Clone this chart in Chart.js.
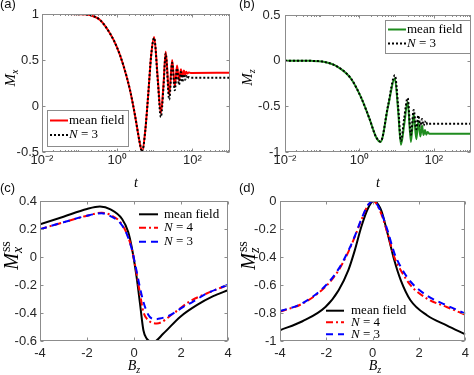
<!DOCTYPE html>
<html><head><meta charset="utf-8">
<script src="https://cdn.jsdelivr.net/npm/chart.js@4.4.1/dist/chart.umd.min.js"></script>
<style>
html,body{margin:0;padding:0;background:#fff;}
#wrap{position:relative;width:474px;height:375px;overflow:hidden;background:#fff;}
canvas{position:absolute;left:0;top:0;}
</style></head><body>
<div id="wrap">
<canvas id="ca" width="474" height="375"></canvas>
<canvas id="cb" width="474" height="375"></canvas>
<canvas id="cc" width="474" height="375"></canvas>
<canvas id="cd" width="474" height="375"></canvas>
</div>
<script>
// ---------------- data ----------------
// (a) M_x vs t
const tA = [0.01, 0.05, 0.1, 0.2, 0.35, 0.64, 0.97, 1.45, 2.2, 2.97, 3.9, 4.6, 5.6, 6.7, 8.0, 9.6, 12, 14.5, 17, 19.5, 24.2, 29, 34, 39, 44, 49.5, 54, 59.5, 64, 69, 74, 80, 90, 1000];
const mxMeanField = [1, 1, 0.998, 0.985, 0.935, 0.79, 0.645, 0.446, 0.17, -0.1, -0.38, -0.5, -0.26, 0.13, 0.55, 0.75, 0.3, -0.08, 0.23, 0.59, 0.12, 0.5, 0.21, 0.44, 0.28, 0.4, 0.32, 0.385, 0.34, 0.372, 0.352, 0.365, 0.36, 0.362];
const mxN3 = [1, 1, 0.998, 0.985, 0.935, 0.79, 0.645, 0.446, 0.17, -0.1, -0.38, -0.5, -0.26, 0.13, 0.55, 0.74, 0.27, -0.12, 0.2, 0.57, 0.07, 0.47, 0.17, 0.41, 0.23, 0.37, 0.26, 0.345, 0.285, 0.325, 0.298, 0.315, 0.308, 0.308];
// (b) M_z vs t
const tB = [0.01, 0.05, 0.1, 0.26, 0.59, 1.1, 1.86, 2.8, 3.7, 5.9, 9.0, 11, 13.1, 16, 19.8, 24.3, 28.8, 33.9, 38.4, 43.5, 48.3, 53, 58, 63, 68, 75, 100, 1000];
const mzMeanField = [0, -0.002, -0.01, -0.067, -0.195, -0.4, -0.635, -0.835, -0.89, -0.5, -0.195, -0.55, -0.92, -0.7, -0.45, -0.89, -0.58, -0.86, -0.66, -0.83, -0.71, -0.815, -0.76, -0.81, -0.78, -0.8, -0.8, -0.8];
const mzN3 = [0, -0.002, -0.01, -0.067, -0.195, -0.4, -0.635, -0.835, -0.885, -0.49, -0.16, -0.5, -0.88, -0.63, -0.41, -0.81, -0.54, -0.75, -0.6, -0.72, -0.64, -0.71, -0.665, -0.7, -0.68, -0.692, -0.69, -0.69];
// (c) M_x^ss vs B_z
const bzCMeanField = [-4, -3, -2, -1.45, -1, -0.5, -0.25, -0.1, 0.11, 0.255, 0.4, 0.54, 0.82, 1.25, 1.96, 2.67, 3.37, 4];
const mxssMeanField = [0.233, 0.288, 0.343, 0.36, 0.34, 0.27, 0.18, 0.073, -0.142, -0.332, -0.523, -0.583, -0.607, -0.547, -0.428, -0.344, -0.28, -0.237];
const bzCN4 = [-4, -3, -2, -1.38, -1, -0.6, -0.31, -0.1, 0.085, 0.23, 0.4, 0.61, 0.97, 1.67, 2.38, 3.09, 4];
const mxssN4 = [0.198, 0.248, 0.295, 0.316, 0.3, 0.252, 0.169, 0.061, -0.094, -0.237, -0.392, -0.452, -0.475, -0.404, -0.316, -0.261, -0.199];
const bzCN3 = [-4, -3, -2, -1.38, -1, -0.6, -0.31, -0.1, 0.085, 0.23, 0.4, 0.6, 0.85, 1.1, 1.53, 2.1, 2.5, 3.09, 4];
const mxssN3 = [0.198, 0.248, 0.295, 0.312, 0.292, 0.245, 0.165, 0.06, -0.08, -0.2, -0.32, -0.41, -0.445, -0.44, -0.416, -0.356, -0.32, -0.261, -0.199];
// (d) M_z^ss vs B_z
const bzD = [-4, -3.03, -2.04, -1.47, -1.05, -0.77, -0.49, -0.2, 0.03, 0.36, 0.64, 0.93, 1.21, 1.63, 2.34, 3.19, 4];
const mzssMeanField = [-0.923, -0.859, -0.757, -0.637, -0.494, -0.351, -0.184, -0.052, 0, -0.064, -0.231, -0.422, -0.565, -0.709, -0.816, -0.888, -0.952];
const mzssN4 = [-0.79, -0.733, -0.613, -0.494, -0.363, -0.255, -0.136, -0.029, 0, -0.088, -0.231, -0.399, -0.494, -0.601, -0.697, -0.757, -0.812];
const mzssN3 = [-0.787, -0.73, -0.605, -0.485, -0.355, -0.25, -0.13, -0.028, 0, -0.08, -0.21, -0.37, -0.47, -0.575, -0.675, -0.745, -0.805];
// tick labels
const logTicks = [0.01, 1, 100];
const logTickLabels = ['10\u207B\u00B2', '10\u2070', '10\u00B2'];
const bTicks = [-4, -2, 0, 2, 4];
const yTicksA = [-0.5, 0, 0.5, 1];
const yTicksB = [-1, -0.5, 0, 0.5];
const yTicksC = [-0.6, -0.4, -0.2, 0, 0.2, 0.4];
const yTicksD = [-1, -0.8, -0.6, -0.4, -0.2, 0];

// ---------------- styling ----------------
const AXIS = '#8c8c8c';
const TXT = '#262626';
const SANS = '"Liberation Sans", Arial, Helvetica, sans-serif';
const SERIF = '"Liberation Serif", "Times New Roman", serif';
const RED = '#ff0000', BLUE = '#0000ff', GREEN = '#1f8c1f', BLACK = '#000000';

function pts(xs, ys) { return xs.map((x, i) => ({x: x, y: ys[i]})); }
function fmt(v) { return String(Number(v.toFixed(2))); }

const panelPlugin = {
  id: 'panel',
  afterDraw(chart, args, o) {
    const ctx = chart.ctx, a = chart.chartArea;
    const xs = chart.scales.x, ys = chart.scales.y;
    ctx.save();
    ctx.strokeStyle = AXIS; ctx.lineWidth = 1;
    const L = Math.round(a.left) + 0.5, R = Math.round(a.right) - 0.5, T = Math.round(a.top) + 0.5, B = Math.round(a.bottom) - 0.5;
    ctx.beginPath();
    const TL = 3;
    o.xMajor.forEach(v => { const p = Math.round(xs.getPixelForValue(v)) + 0.5; ctx.moveTo(p, B); ctx.lineTo(p, B - TL); ctx.moveTo(p, T); ctx.lineTo(p, T + TL); });
    o.yMajor.forEach(v => { const p = Math.round(ys.getPixelForValue(v)) + 0.5; ctx.moveTo(L, p); ctx.lineTo(L + TL, p); ctx.moveTo(R, p); ctx.lineTo(R - TL, p); });
    if (o.minorLog) {
      for (let d = -2; d < 3; d++) for (let m = 2; m <= 9; m++) {
        const v = m * Math.pow(10, d);
        const p = Math.round(xs.getPixelForValue(v)) + 0.5;
        ctx.moveTo(p, B); ctx.lineTo(p, B - 1.5); ctx.moveTo(p, T); ctx.lineTo(p, T + 1.5);
      }
    }
    ctx.stroke();
    ctx.strokeRect(L, T, R - L, B - T);

    // legend
    const lg = o.legend;
    if (lg.box) {
      ctx.fillStyle = '#fff';
      ctx.fillRect(lg.box[0], lg.box[1], lg.box[2], lg.box[3]);
      ctx.strokeStyle = AXIS;
      ctx.strokeRect(lg.box[0] + 0.5, lg.box[1] + 0.5, lg.box[2], lg.box[3]);
    }
    lg.rows.forEach(r => {
      const ds = chart.data.datasets[r.ds];
      ctx.strokeStyle = ds.borderColor; ctx.lineWidth = ds.borderWidth;
      ctx.setLineDash(ds.borderDash || []);
      ctx.beginPath(); ctx.moveTo(lg.x1, r.y); ctx.lineTo(lg.x2, r.y); ctx.stroke();
      ctx.setLineDash([]);
      ctx.fillStyle = '#000'; ctx.textBaseline = 'middle'; ctx.textAlign = 'left';
      let x = lg.tx;
      const label = ds.label;
      const parts = label.startsWith('N') ? [['N', 'italic '], [label.slice(1), '']] : [[label, '']];
      parts.forEach(([t, st]) => { ctx.font = st + '13px ' + SERIF; ctx.fillText(t, x, r.y); x += ctx.measureText(t).width; });
    });

    // x title
    const xt = o.xTitle;
    ctx.fillStyle = '#000'; ctx.textBaseline = 'alphabetic'; ctx.textAlign = 'left';
    ctx.font = 'italic 14px ' + SERIF;
    const wMain = ctx.measureText(xt.main).width;
    let wSub = 0;
    if (xt.sub) { ctx.font = 'italic 10px ' + SERIF; wSub = ctx.measureText(xt.sub).width; }
    let x0 = xt.x - (wMain + wSub) / 2;
    ctx.font = 'italic 14px ' + SERIF; ctx.fillText(xt.main, x0, xt.y);
    if (xt.sub) { ctx.font = 'italic 10px ' + SERIF; ctx.fillText(xt.sub, x0 + wMain, xt.y + 3); }

    // y title (rotated)
    const yt = o.yTitle, s = yt.size, ss = Math.round(s * 0.68);
    ctx.font = 'italic ' + s + 'px ' + SERIF;
    const wM = ctx.measureText('M').width;
    ctx.font = 'italic ' + ss + 'px ' + SERIF;
    const wS = ctx.measureText(yt.sub).width;
    let wP = 0;
    if (yt.sup) { ctx.font = ss + 'px ' + SERIF; wP = ctx.measureText(yt.sup).width; }
    const tot = wM + Math.max(wS, wP);
    ctx.save();
    ctx.translate(yt.x, yt.cy); ctx.rotate(-Math.PI / 2);
    const y0 = -tot / 2;
    ctx.font = 'italic ' + s + 'px ' + SERIF; ctx.fillText('M', y0, 0);
    ctx.font = 'italic ' + ss + 'px ' + SERIF; ctx.fillText(yt.sub, y0 + wM, s * 0.2);
    if (yt.sup) { ctx.font = ss + 'px ' + SERIF; ctx.fillText(yt.sup, y0 + wM + 1, -s * 0.42); }
    ctx.restore();

    // panel label
    ctx.font = '13px ' + SANS; ctx.fillStyle = '#111';
    ctx.fillText(o.tag[0], o.tag[1], o.tag[2]);
    ctx.restore();
  }
};

function makePanel(id, cfg) {
  const yw = 40, xh = 30;
  const ar = cfg.area;
  const xScale = cfg.logX ? {
    type: 'logarithmic', min: 0.01, max: 1000,
    afterBuildTicks: s => { s.ticks = logTicks.map(v => ({value: v})); },
    ticks: {callback: (v, i) => logTickLabels[i], font: {family: SANS, size: 13}, color: TXT, padding: cfg.xPad, autoSkip: false, maxRotation: 0, minRotation: 0},
    grid: {display: false, drawTicks: false}, border: {display: false},
    afterFit: s => { s.height = xh; }
  } : {
    type: 'linear', min: -4, max: 4,
    afterBuildTicks: s => { s.ticks = bTicks.map(v => ({value: v})); },
    ticks: {callback: v => fmt(v), font: {family: SANS, size: 13}, color: TXT, padding: cfg.xPad, autoSkip: false, maxRotation: 0, minRotation: 0},
    grid: {display: false, drawTicks: false}, border: {display: false},
    afterFit: s => { s.height = xh; }
  };
  const yScale = {
    type: 'linear', min: cfg.yTicks[0], max: cfg.yTicks[cfg.yTicks.length - 1],
    afterBuildTicks: s => { s.ticks = cfg.yTicks.map(v => ({value: v})); },
    ticks: {callback: v => fmt(v), font: {family: SANS, size: 13}, color: TXT, padding: cfg.yPad, autoSkip: false},
    grid: {display: false, drawTicks: false}, border: {display: false},
    afterFit: s => { s.width = yw; }
  };
  return new Chart(document.getElementById(id), {
    type: 'line',
    data: {datasets: cfg.datasets.map(d => Object.assign({pointRadius: 0, borderWidth: 2, fill: false, cubicInterpolationMode: 'monotone'}, d))},
    options: {
      responsive: false, animation: false, events: [],
      layout: {autoPadding: false, padding: {left: ar.L - yw, top: ar.T, right: 474 - ar.R, bottom: 375 - ar.B - xh}},
      scales: {x: xScale, y: yScale},
      plugins: {
        legend: {display: false}, tooltip: {enabled: false},
        panel: {
          xMajor: cfg.logX ? logTicks : bTicks, yMajor: cfg.yTicks, minorLog: cfg.logX,
          legend: cfg.legend, xTitle: cfg.xTitle, yTitle: cfg.yTitle, tag: cfg.tag
        }
      }
    },
    plugins: [panelPlugin]
  });
}

makePanel('ca', {
  area: {L: 42, T: 14, R: 230, B: 152}, logX: true, xPad: 1, yPad: 3, yTicks: yTicksA,
  datasets: [
    {label: 'N = 3', data: pts(tA, mxN3), borderColor: BLACK, borderDash: [2, 2], order: 0},
    {label: 'mean field', data: pts(tA, mxMeanField), borderColor: RED, order: 1}
  ],
  legend: {box: [47, 110, 81, 36], x1: 50, x2: 68, tx: 69, rows: [{ds: 1, y: 120.5}, {ds: 0, y: 135}]},
  xTitle: {main: 't', x: 136, y: 187},
  yTitle: {x: 15, cy: 78, size: 15, sub: 'x'},
  tag: ['(a)', 0, 8]
});

makePanel('cb', {
  area: {L: 285, T: 15, R: 471, B: 152}, logX: true, xPad: 1, yPad: 4.5, yTicks: yTicksB,
  datasets: [
    {label: 'N = 3', data: pts(tB, mzN3), borderColor: BLACK, borderDash: [2, 2], order: 0},
    {label: 'mean field', data: pts(tB, mzMeanField), borderColor: GREEN, order: 1}
  ],
  legend: {box: [385, 20, 85, 33], x1: 388, x2: 406, tx: 407, rows: [{ds: 1, y: 29.5}, {ds: 0, y: 43.5}]},
  xTitle: {main: 't', x: 378, y: 187},
  yTitle: {x: 252, cy: 77.5, size: 15, sub: 'z'},
  tag: ['(b)', 239, 8]
});

makePanel('cc', {
  area: {L: 40, T: 201, R: 228, B: 341}, logX: false, xPad: 5, yPad: 3, yTicks: yTicksC,
  datasets: [
    {label: 'N = 3', data: pts(bzCN3, mxssN3), borderColor: BLUE, borderDash: [7, 5], order: 0},
    {label: 'N = 4', data: pts(bzCN4, mxssN4), borderColor: RED, borderDash: [7, 3, 2, 3], order: 1},
    {label: 'mean field', data: pts(bzCMeanField, mxssMeanField), borderColor: BLACK, order: 2}
  ],
  legend: {box: null, x1: 139, x2: 158, tx: 164, rows: [{ds: 2, y: 214.3}, {ds: 1, y: 227.7}, {ds: 0, y: 241.7}]},
  xTitle: {main: 'B', sub: 'z', x: 134, y: 370},
  yTitle: {x: 18, cy: 256, size: 20, sub: 'x', sup: 'ss'},
  tag: ['(c)', 0, 192]
});

makePanel('cd', {
  area: {L: 280, T: 201, R: 469, B: 341}, logX: false, xPad: 5, yPad: 3.5, yTicks: yTicksD,
  datasets: [
    {label: 'N = 3', data: pts(bzD, mzssN3), borderColor: BLUE, borderDash: [7, 5], order: 0},
    {label: 'N = 4', data: pts(bzD, mzssN4), borderColor: RED, borderDash: [7, 3, 2, 3], order: 1},
    {label: 'mean field', data: pts(bzD, mzssMeanField), borderColor: BLACK, order: 2}
  ],
  legend: {box: null, x1: 326, x2: 344, tx: 351, rows: [{ds: 2, y: 310.7}, {ds: 1, y: 322.3}, {ds: 0, y: 334.3}]},
  xTitle: {main: 'B', sub: 'z', x: 375, y: 370},
  yTitle: {x: 255, cy: 256, size: 20, sub: 'z', sup: 'ss'},
  tag: ['(d)', 239, 192]
});
</script>
</body></html>
